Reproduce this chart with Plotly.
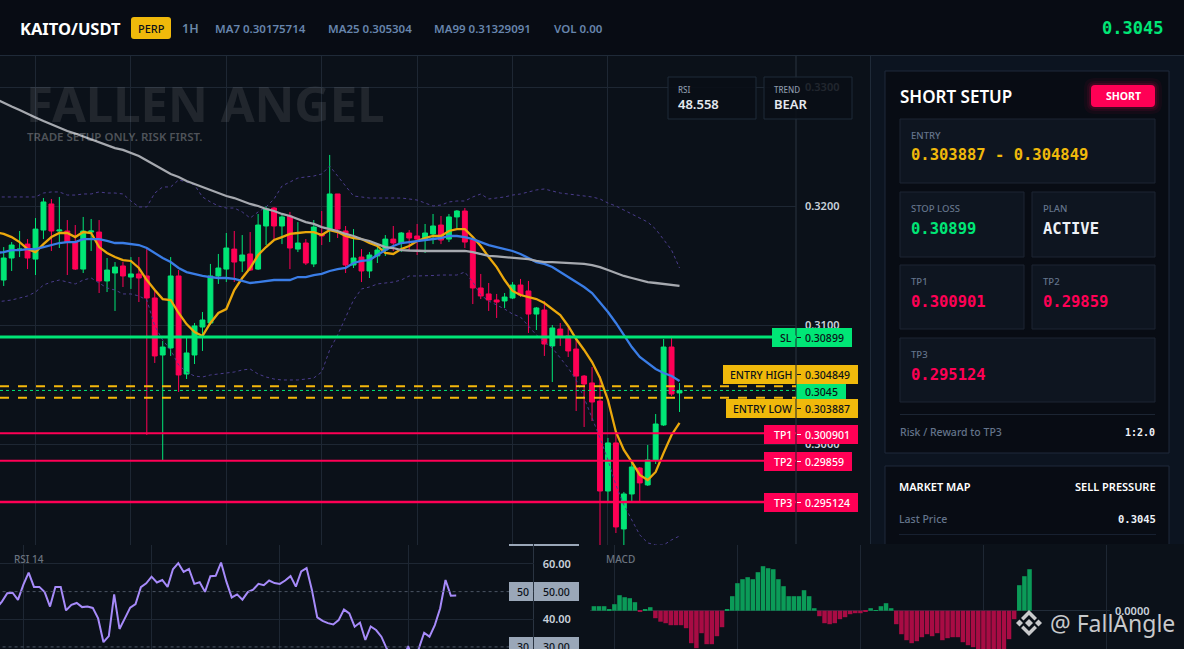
import plotly.graph_objects as go

W, H = 1184, 649
SANS = "Noto Sans"
MONO = "DejaVu Sans Mono"

GREEN = "#00e676"
RED = "#ff0055"
YELLOW = "#f0b90b"
GRID = "#1e2733"
EDGE = "#1f2a38"

opens = [.31378,.31563,.31630,.31680,.31554,.31798,.32017,.31790,.31790,.31697,
         .31470,.31781,.31781,.31370,.31437,.31496,.31403,.31429,.31412,.31227,
         .30748,.30807,.31412,.30588,.30748,.30983,.31017,.31412,.31470,.31638,
         .31538,.31597,.31470,.31832,.31983,.31832,.31916,.31638,.31689,.31513,
         .31765,.31806,.32101,.31790,.31504,.31571,.31454,.31580,.31630,.31722,
         .31689,.31773,.31748,.31722,.31765,.31840,.31722,.31908,.31958,.31714,
         .31311,.31261,.31210,.31202,.31227,.31336,.31286,.31092,.31126,.30824,
         .30966,.30908,.30798,.30571,.30513,.30361,.29605,.30009,.29286,.29580,
         .29798,.29656,.29866,.30160,.30815,.30429]
closes = [.31563,.31672,.31638,.31563,.31806,.32034,.31790,.31798,.31697,.31470,
          .31790,.31790,.31370,.31462,.31487,.31412,.31429,.31395,.31227,.30740,
          .30815,.31412,.30580,.30765,.30992,.31042,.31412,.31479,.31647,.31529,
          .31588,.31462,.31840,.31975,.31832,.31908,.31647,.31689,.31521,.31823,
          .31748,.32101,.31806,.31504,.31563,.31454,.31588,.31630,.31722,.31689,
          .31773,.31731,.31722,.31773,.31832,.31714,.31908,.31958,.31697,.31311,
          .31244,.31210,.31193,.31235,.31336,.31252,.31092,.31143,.30840,.30975,
          .30899,.30782,.30571,.30504,.30353,.29605,.30009,.29303,.29580,.29807,
          .29673,.29866,.30168,.30815,.30420,.3045]
highs = [.31655,.31697,.31790,.31722,.31899,.32067,.32059,.32076,.31882,.31840,
         .31908,.31891,.31882,.31563,.31529,.31529,.31571,.31571,.31647,.31303,
         .30866,.31571,.31462,.30891,.31017,.31109,.31513,.31597,.31773,.31790,
         .31756,.31781,.31933,.32000,.31992,.31924,.31950,.31865,.31722,.31882,
         .31958,.32429,.32101,.31832,.31806,.31638,.31613,.31680,.31756,.31832,
         .31781,.31798,.31849,.31849,.31933,.31916,.31933,.31966,.31983,.31714,
         .31429,.31353,.31261,.31269,.31361,.31387,.31370,.31151,.31202,.31000,
         .31017,.30992,.30908,.30580,.30647,.30571,.30051,.30101,.29597,.29866,
         .29807,.29992,.30252,.30882,.30908,.30513]
lows = [.31328,.31454,.31571,.31470,.31420,.31722,.31622,.31647,.31420,.31462,
        .31437,.31622,.31269,.31277,.31118,.31319,.31303,.31193,.30076,.30681,
        .29857,.30740,.30437,.30546,.30672,.30782,.31000,.31345,.31361,.31361,
        .31445,.31454,.31462,.31672,.31722,.31680,.31470,.31613,.31504,.31487,
        .31672,.31697,.31731,.31437,.31479,.31361,.31395,.31521,.31580,.31622,
        .31613,.31630,.31588,.31605,.31680,.31680,.31697,.31815,.31647,.31176,
        .31218,.31118,.31059,.31143,.31218,.31235,.30933,.30958,.30740,.30521,
        .30824,.30731,.30277,.30143,.30193,.29026,.29505,.29252,.29068,.29521,
        .29521,.29647,.29832,.30151,.30403,.30269]

# the lines start one bar before the first candle so they reach the left edge
ma7 = [.31781,.31765,.31739,.31697,.31638,.31613,.31680,.31739,.31773,.31773,
       .31739,.31781,.31773,.31655,.31605,.31571,.31546,.31538,.31479,.31378,
       .31294,.31218,.31210,.31101,.31008,.30941,.30908,.31017,.31101,.31134,
       .31294,.31395,.31479,.31588,.31655,.31714,.31739,.31765,.31773,.31781,
       .31781,.31756,.31798,.31781,.31748,.31731,.31722,.31689,.31664,.31605,
       .31597,.31638,.31664,.31706,.31731,.31748,.31748,.31790,.31806,.31806,
       .31739,.31664,.31571,.31487,.31378,.31286,.31252,.31235,.31218,.31185,
       .31134,.31084,.30992,.30882,.30790,.30689,.30555,.30370,.30101,.29950,
       .29849,.29740,.29698,.29765,.29925,.30076,.30177]
ma25 = [.31605,.31613,.31630,.31630,.31638,.31638,.31655,.31672,.31689,.31697,
        .31697,.31722,.31722,.31722,.31706,.31689,.31689,.31680,.31672,.31647,
        .31605,.31563,.31529,.31479,.31445,.31429,.31412,.31403,.31395,.31395,
        .31387,.31370,.31353,.31361,.31370,.31378,.31378,.31378,.31403,.31403,
        .31420,.31429,.31454,.31470,.31479,.31521,.31538,.31546,.31588,.31630,
        .31664,.31689,.31697,.31706,.31714,.31722,.31731,.31748,.31748,.31739,
        .31722,.31697,.31672,.31655,.31638,.31622,.31597,.31563,.31529,.31513,
        .31487,.31445,.31403,.31361,.31319,.31269,.31193,.31109,.31017,.30916,
        .30815,.30731,.30681,.30630,.30597,.30571,.30530]
ma99 = [.32899,.32865,.32836,.32807,.32773,.32744,.32714,.32685,.32655,.32630,
        .32609,.32584,.32563,.32538,.32513,.32487,.32471,.32445,.32420,.32382,
        .32345,.32303,.32269,.32244,.32210,.32185,.32160,.32135,.32109,.32084,
        .32067,.32042,.32017,.32000,.31975,.31958,.31933,.31916,.31891,.31865,
        .31849,.31823,.31806,.31790,.31765,.31748,.31722,.31706,.31680,.31655,
        .31647,.31630,.31626,.31622,.31622,.31622,.31622,.31622,.31622,.31622,
        .31613,.31597,.31580,.31576,.31571,.31567,.31563,.31554,.31538,.31529,
        .31529,.31525,.31521,.31521,.31513,.31504,.31487,.31462,.31437,.31412,
        .31395,.31378,.31361,.31353,.31345,.31336,.31328]
bb_upper = [.32076,.32076,.32076,.32076,.32076,.32076,.32109,.32118,.32118,.32092,
            .32092,.32101,.32101,.32118,.32109,.32109,.32101,.32042,.31992,.31992,
            .32109,.32160,.32160,.32219,.32202,.32177,.32076,.32034,.32000,.31983,
            .31983,.31950,.31899,.31950,.31992,.32059,.32168,.32202,.32235,.32244,
            .32252,.32269,.32336,.32252,.32168,.32084,.32076,.32067,.32067,.32067,
            .32067,.32067,.32059,.32050,.32025,.32000,.32008,.32034,.32042,.32042,
            .32076,.32101,.32059,.32067,.32076,.32092,.32101,.32118,.32135,.32143,
            .32126,.32109,.32101,.32092,.32084,.32076,.32059,.32025,.32000,.31966,
            .31933,.31899,.31865,.31806,.31714,.31630,.31479]
bb_lower = [.31193,.31202,.31210,.31227,.31244,.31277,.31336,.31361,.31378,.31361,
            .31345,.31378,.31395,.31353,.31311,.31294,.31261,.31261,.31244,.31210,
            .30992,.30874,.30790,.30664,.30605,.30571,.30563,.30580,.30588,.30597,
            .30605,.30622,.30630,.30588,.30563,.30546,.30538,.30538,.30538,.30546,
            .30555,.30605,.30790,.30916,.31067,.31210,.31303,.31319,.31345,.31353,
            .31361,.31378,.31412,.31412,.31412,.31416,.31420,.31420,.31420,.31445,
            .31361,.31252,.31202,.31168,.31134,.31092,.31067,.30992,.30916,.30857,
            .30807,.30723,.30639,.30538,.30387,.30219,.30051,.29866,.29656,.29488,
            .29362,.29236,.29169,.29151,.29151,.29194,.29227]
rsi = [44.0,46.4,49.4,49.6,47.0,52.4,56.9,51.7,51.7,49.8,44.6,51.7,51.7,43.2,45.2,45.9,44.4,
       44.6,44.1,40.3,31.7,33.9,49.0,36.5,40.3,44.2,45.5,51.6,53.0,55.4,53.3,54.2,51.7,58.1,
       60.3,57.1,58.2,52.8,53.4,49.9,55.6,55.7,60.5,53.6,47.9,49.0,47.1,49.8,50.7,52.8,52.3,
       54.0,53.1,52.8,54.0,55.6,51.8,57.3,58.5,50.6,40.7,39.4,38.6,38.1,39.7,43.5,42.1,37.3,
       38.8,32.5,37.4,36.1,33.7,29.4,27.0,24.0,24.6,30.3,25.2,29.4,35.1,33.7,37.9,44.0,54.2,
       48.5,48.56]
macd_hist = [.00009,.00009,.00009,.00003,.00013,.00031,.00027,.00025,.00017,-.00002,.00003,.00007,
             -.00015,-.00022,-.00025,-.00029,-.00029,-.00029,-.00035,-.00065,-.00075,-.00045,
             -.00067,-.00067,-.00051,-.00033,.00003,.00029,.00055,.00063,.00067,.00063,.00077,
             .00089,.00085,.00083,.00063,.00049,.00029,.00029,.00029,.00041,.00029,.00005,
             -.00011,-.00025,-.00027,-.00025,-.00017,-.00013,-.00007,-.00005,-.00005,-.00001,
             .00005,.00001,.00009,.00015,.00005,-.00027,-.00047,-.00059,-.00065,-.00061,-.00053,
             -.00047,-.00051,-.00045,-.00059,-.00055,-.00053,-.00053,-.00063,-.00069,-.00073,
             -.00077,-.00079,-.00082,-.00085,-.00085,-.00079,-.00057,-.00017,.00051,.00069,.00083]

bars = list(range(len(closes)))
line_bars = list(range(-1, len(closes)))
grid_bars = [4, 16, 28, 40, 52, 64, 76]
sub_grid_bars = [4, 28, 52, 76, 100]
price_ticks = [0.30, 0.31, 0.32, 0.33]
rsi_ticks = [40, 60]

sl_level = 0.30899
tp_levels = [0.300901, 0.29859, 0.295124]
entry_levels = [0.304849, 0.303887]
last_price = 0.3045


def fx(x):
    return x / W


def fy(y):
    return 1 - y / H


shapes = []
notes = []


def rect(x0, y0, x1, y1, fill, line=None, layer="below", radius=0):
    if radius:
        r = radius
        a, b, c, d = fx(x0), fx(x1), fy(y0), fy(y1)
        rx, ry = r / W, r / H
        path = (f"M {a+rx} {c} L {b-rx} {c} Q {b} {c} {b} {c-ry} L {b} {d+ry} Q {b} {d} {b-rx} {d} "
                f"L {a+rx} {d} Q {a} {d} {a} {d+ry} L {a} {c-ry} Q {a} {c} {a+rx} {c} Z")
        shapes.append(dict(type="path", path=path, xref="paper", yref="paper", fillcolor=fill,
                           line=dict(width=0), layer=layer))
        return
    shapes.append(dict(type="rect", xref="paper", yref="paper", x0=fx(x0), x1=fx(x1), y0=fy(y1), y1=fy(y0),
                       fillcolor=fill, line=dict(color=line, width=1) if line else dict(width=0), layer=layer))


def poly(points, fill):
    path = "M " + " L ".join(f"{fx(x)} {fy(y)}" for x, y in points) + " Z"
    shapes.append(dict(type="path", path=path, xref="paper", yref="paper", fillcolor=fill,
                       line=dict(width=0), layer="above"))


def text(x, y, s, size=11, color="#ffffff", anchor="left", family=SANS, weight=400):
    # text renders about a pixel inside its anchor
    if anchor == "left":
        x -= 1
    elif anchor == "right":
        x += 1
    notes.append(dict(x=fx(x), y=fy(y), xref="paper", yref="paper", text=s, showarrow=False,
                      xanchor=anchor, yanchor="middle", borderpad=0,
                      font=dict(size=size, color=color, family=family, weight=weight)))


def level(yref, price, color, width, dash="solid"):
    shapes.append(dict(type="line", xref="x domain", yref=yref, x0=0, x1=1, y0=price, y1=price,
                       line=dict(color=color, width=width, dash=dash), layer="above"))


def tag(x0, x1, y0, y1, name, value, fill, ink):
    rect(x0, y0, 795.5, y1, fill, layer="above")
    rect(796.5, y0, x1, y1, fill, layer="above")
    rect(797, (y0 + y1) / 2 - 0.5, 801, (y0 + y1) / 2 + 0.5, ink, layer="above")
    text(792, (y0 + y1) / 2, name, 10.5, ink, "right", weight=500)
    text(805, (y0 + y1) / 2, value, 10.5, ink, weight=500)


def cell(x0, y0, x1, y1, name, value, color):
    rect(x0, y0, x1, y1, "#0e1520", "#1c2533")
    text(x0 + 11, y0 + 16, name, 9.5, "#64748b", weight=500)
    text(x0 + 11, y0 + 36.5, value, 15.5, color, family=MONO, weight=700)


# backgrounds
rect(0, 0, W, H, "#0b1119")
rect(0, 0, W, 55, "#080c14")
rect(0, 55, W, 56, EDGE)
rect(870, 56, W, 545, "#0c1420")
rect(870, 56, 871, 545, EDGE)
rect(885, 71, 1169, 453, "#080c14", "#1e293b")
rect(885, 466, 1169, 560, "#080c14", "#1e293b")
rect(0, 544, W, H, "#0b1119")
rect(795.5, 56, 796.5, 544, "#2a3441")
rect(533, 544, 534, H, "#2a3441")

# header
text(20, 28, "KAITO/USDT", 16.5, "#ffffff", weight=700)
rect(131, 17, 171, 39, YELLOW, radius=3)
text(151, 28, "PERP", 11, "#0b1119", "center", weight=500)
text(182, 28, "1H", 12.5, "#6a88a8", weight=600)
text(215, 28, "MA7 0.30175714", 11.5, "#6785ad", weight=600)
text(328, 28, "MA25 0.305304", 11.5, "#6785ad", weight=600)
text(434, 28, "MA99 0.31329091", 11.5, "#6785ad", weight=600)
text(554, 28, "VOL 0.00", 11.5, "#6785ad", weight=600)
text(1163, 28, "0.3045", 17, GREEN, "right", MONO, 700)

# chart watermark and small cards
text(26, 103, "FALLEN ANGEL", 49, "rgba(255,255,255,0.09)", weight=700)
text(27, 137, "TRADE SETUP ONLY. RISK FIRST.", 11.5, "rgba(255,255,255,0.28)", weight=600)
rect(668, 77, 756, 119, "rgba(9,14,22,0.88)", EDGE, layer="above")
rect(764, 77, 852, 119, "rgba(9,14,22,0.88)", EDGE, layer="above")
text(678, 89, "RSI", 8, "#8b98a9", weight=500)
text(678, 104, "48.558", 13, "#e5e9ef", weight=600)
text(774, 89, "TREND", 8, "#8b98a9", weight=500)
text(774, 104, "BEAR", 13, "#e5e9ef", weight=600)

# levels
level("y", sl_level, GREEN, 3)
for p in entry_levels:
    level("y", p, "#f5b80c", 2, "dash")
level("y", last_price, GREEN, 1, "dot")
level("y", tp_levels[0], RED, 2)
level("y", tp_levels[1], RED, 2)
level("y", tp_levels[2], RED, 2.5)

tag(772, 852, 328, 347, "SL", "0.30899", GREEN, "#0b1119")
tag(723, 858, 365, 384, "ENTRY HIGH", "0.304849", YELLOW, "#0b1119")
rect(796.5, 384, 846, 399, GREEN, layer="above")
text(805, 391.5, "0.3045", 10.5, "#0b1119", weight=500)
tag(726, 858, 399, 418, "ENTRY LOW", "0.303887", YELLOW, "#0b1119")
tag(764, 858, 425, 444, "TP1", "0.300901", RED, "#ffffff")
tag(764, 852, 452, 471, "TP2", "0.29859", RED, "#ffffff")
tag(764, 858, 493, 512, "TP3", "0.295124", RED, "#ffffff")

# short setup panel
text(900, 96.5, "SHORT SETUP", 17, "#ffffff", weight=600)
for grow, alpha in ((7, 0.05), (4, 0.08), (2, 0.12)):
    rect(1091 - grow, 85 - grow, 1155 + grow, 107 + grow, f"rgba(255,0,85,{alpha})", radius=4 + grow)
rect(1091, 85, 1155, 107, RED, radius=4)
text(1123, 96, "SHORT", 10.5, "#ffffff", "center", weight=700)
cell(900, 119, 1155, 183, "ENTRY", "0.303887 - 0.304849", YELLOW)
cell(900, 192, 1024, 257, "STOP LOSS", "0.30899", GREEN)
cell(1032, 192, 1155, 257, "PLAN", "ACTIVE", "#eef2f7")
cell(900, 265, 1024, 329, "TP1", "0.300901", RED)
cell(1032, 265, 1155, 329, "TP2", "0.29859", RED)
cell(900, 338, 1155, 402, "TP3", "0.295124", RED)
rect(900, 414, 1155, 415, "#1c2533")
text(900, 432, "Risk / Reward to TP3", 10.5, "#64748b", weight=500)
text(1155, 432, "1:2.0", 10, "#eef2f7", "right", MONO, 700)

# market map
text(899, 486.5, "MARKET MAP", 11, "#ffffff", weight=600)
text(1156, 486.5, "SELL PRESSURE", 11, "#ffffff", "right", weight=600)
text(899, 519, "Last Price", 10.5, "#64748b", weight=500)
text(1156, 519, "0.3045", 10.5, "#eef2f7", "right", MONO, 700)
rect(899, 534, 1156, 535, "#172030")

# rsi price tags
text(14, 559, "RSI 14", 10, "#6b7480", weight=500)
BOX = "#9aa7b8"
for y0, y1, a, b in ((544, 546, "", ""), (582, 601, "50", "50.00"), (637, 656, "30", "30.00")):
    rect(509, y0, 533, y1, BOX, layer="above")
    rect(534, y0, 579, y1, BOX, layer="above")
    if a:
        text(529, (y0 + y1) / 2, a, 10.5, "#0b1119", "right", weight=500)
        text(543, (y0 + y1) / 2, b, 10.5, "#0b1119", weight=500)
text(606, 559, "MACD", 10, "#6b7480", weight=500)

# bottom right watermark
MARK = "rgba(255,255,255,0.78)"
for cx, cy, r in ((1029, 623, 4), (1019.5, 623, 3.5), (1038.5, 623, 3.5)):
    poly([(cx, cy - r), (cx + r, cy), (cx, cy + r), (cx - r, cy)], MARK)
poly([(1029, 610), (1037, 618), (1034.5, 620.5), (1029, 615), (1023.5, 620.5), (1021, 618)], MARK)
poly([(1029, 636), (1037, 628), (1034.5, 625.5), (1029, 631), (1023.5, 625.5), (1021, 628)], MARK)
text(1050, 623, "@ FallAngle", 23, MARK)

fig = go.Figure()

fig.add_trace(go.Candlestick(
    x=bars, open=opens, high=highs, low=lows, close=closes,
    increasing=dict(line=dict(color=GREEN, width=1), fillcolor=GREEN),
    decreasing=dict(line=dict(color=RED, width=1), fillcolor=RED),
    whiskerwidth=0,
))
for values, color, width, dash in (
    (bb_upper, "#4a3c8c", 1, "dot"),
    (bb_lower, "#4a3c8c", 1, "dot"),
    (ma7, "#eba80c", 2.3, "solid"),
    (ma25, "#3a7de6", 2.3, "solid"),
    (ma99, "#a6a9af", 2.3, "solid"),
):
    fig.add_trace(go.Scatter(x=line_bars, y=values, mode="lines", line=dict(color=color, width=width, dash=dash)))

fig.add_trace(go.Scatter(x=line_bars, y=rsi, mode="lines", xaxis="x2", yaxis="y2",
                         line=dict(color="#a78bfa", width=2)))
fig.add_trace(go.Scatter(x=[-1, 100], y=[50, 50], mode="lines", xaxis="x2", yaxis="y2",
                         line=dict(color="#4b5563", width=1, dash="dot")))
fig.add_trace(go.Scatter(x=[-1, 100], y=[30, 30], mode="lines", xaxis="x2", yaxis="y2",
                         line=dict(color="#4b5563", width=1, dash="dot")))
fig.add_trace(go.Bar(x=bars, y=macd_hist, xaxis="x3", yaxis="y3", width=0.88,
                     marker=dict(color=["#0b9b58" if v >= 0 else "#a80c44" for v in macd_hist], line=dict(width=0))))

tick_font = dict(family=SANS, size=11, color="#c9d1db", weight=600)
fig.update_layout(
    width=W, height=H, margin=dict(l=0, r=0, t=0, b=0), showlegend=False,
    paper_bgcolor="#0b1119", plot_bgcolor="rgba(0,0,0,0)", boxgap=0.12, hovermode=False,
    shapes=shapes, annotations=notes,
    xaxis=dict(domain=[0, 796 / W], range=[-0.465, 99.65], rangeslider=dict(visible=False), tickvals=grid_bars,
               showticklabels=False, gridcolor=GRID, zeroline=False, anchor="y"),
    yaxis=dict(domain=[fy(545), fy(56)], range=[0.291513, 0.332605], side="right", tickvals=price_ticks,
               tickformat=".4f", gridcolor=GRID, zeroline=False, ticklabelstandoff=8, tickfont=tick_font, anchor="x"),
    xaxis2=dict(domain=[0, 533.7 / W], range=[-0.36, 99.5], tickvals=sub_grid_bars, showticklabels=False,
                gridcolor=GRID, zeroline=False, anchor="y2"),
    yaxis2=dict(domain=[0, fy(545)], range=[29.24, 66.86], side="right", tickvals=rsi_ticks, tickformat=".2f",
                gridcolor=GRID, zeroline=False, ticklabelstandoff=8, tickfont=tick_font, anchor="x2"),
    xaxis3=dict(domain=[590 / W, 1110 / W], range=[-0.76, 100.7], tickvals=sub_grid_bars, showticklabels=False,
                gridcolor=GRID, zeroline=False, anchor="y3"),
    yaxis3=dict(domain=[0, fy(545)], range=[-0.000766, 0.001314], side="right", tickvals=[0], tickformat=".4f",
                gridcolor="#222c39", zeroline=False, ticklabelstandoff=4, tickfont=tick_font, anchor="x3"),
)

fig.write_html("out.html", config=dict(displayModeBar=False),
               post_script="document.body.style.margin='0';document.body.style.overflow='hidden';")
